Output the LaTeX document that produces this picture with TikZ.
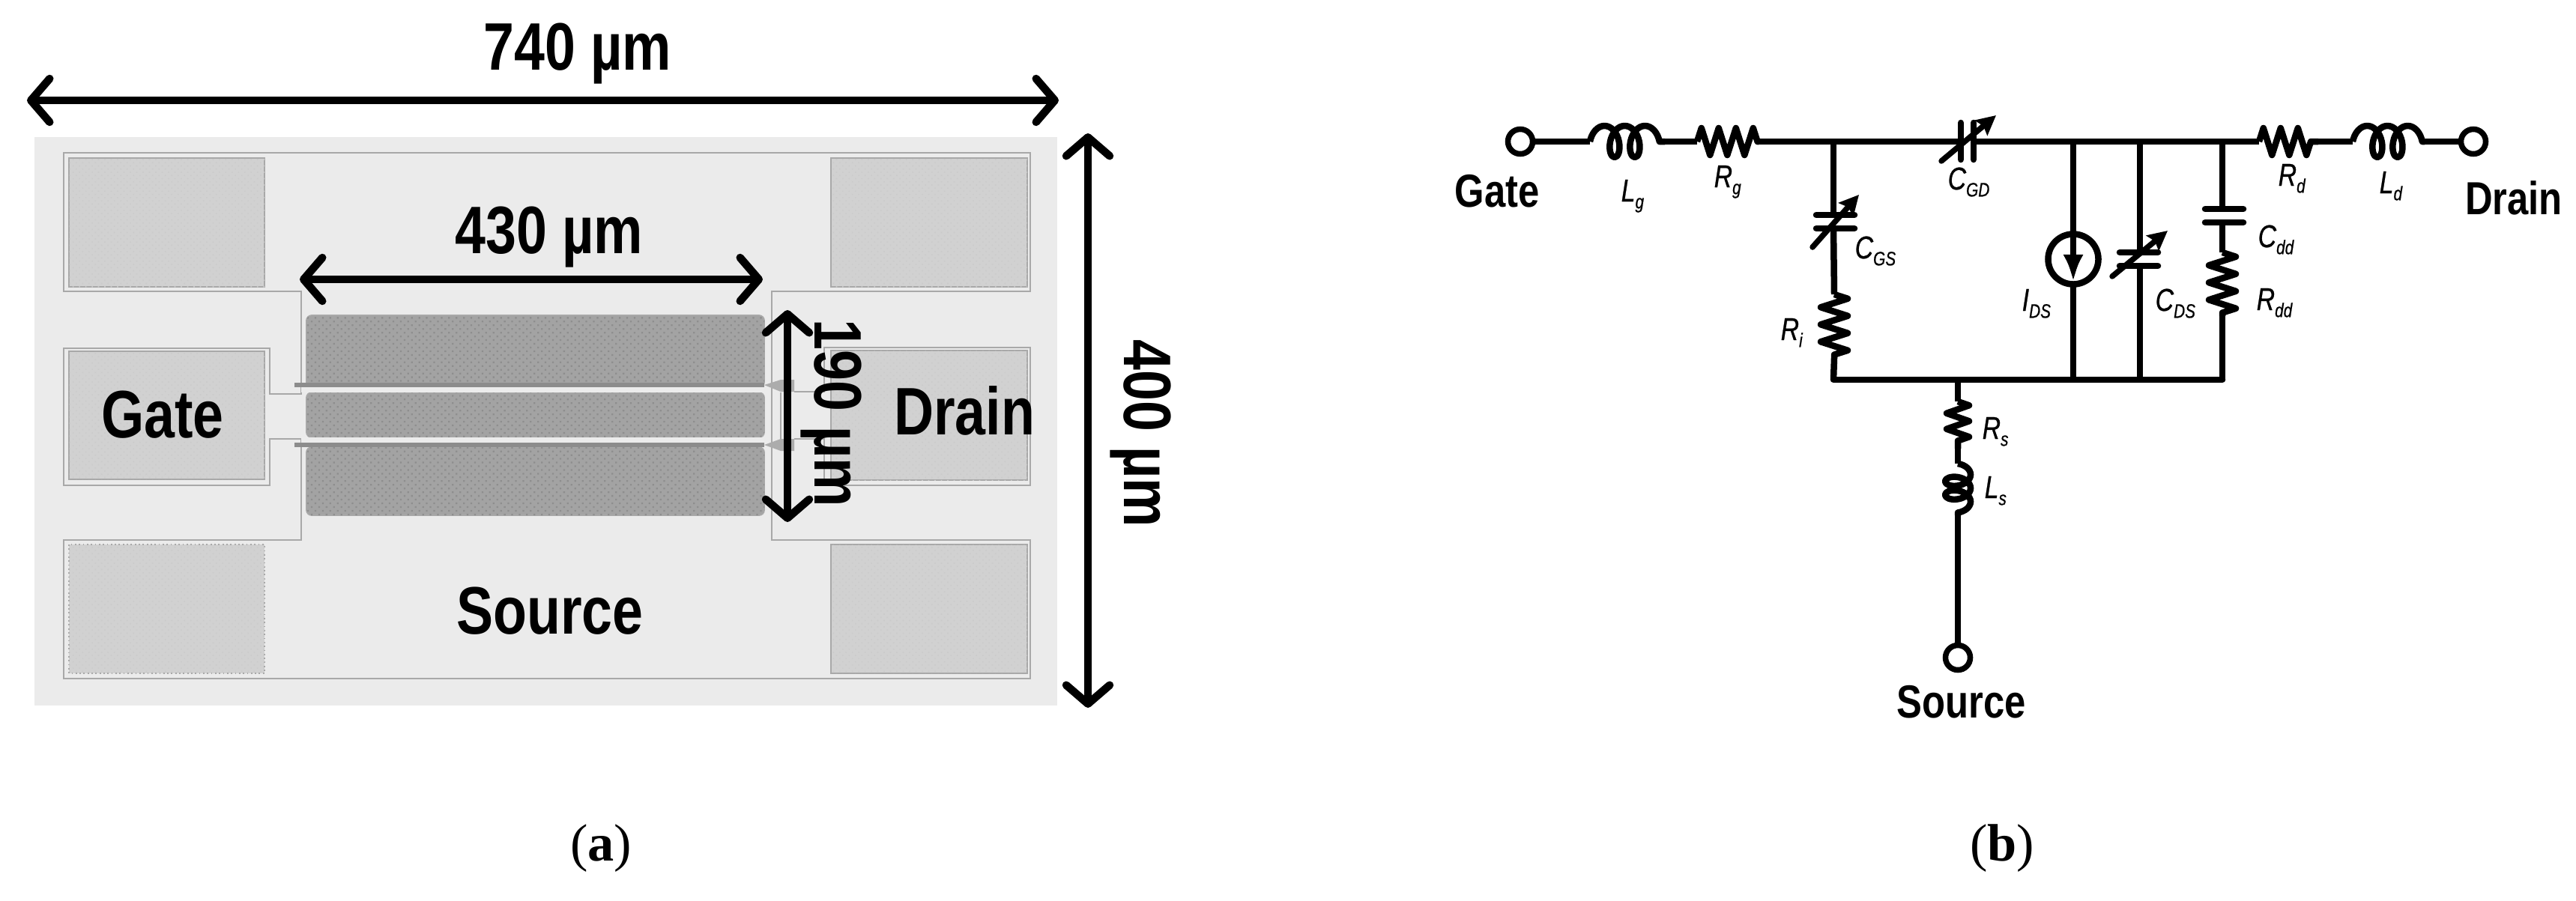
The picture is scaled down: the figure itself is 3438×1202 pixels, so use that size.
\documentclass[tikz,border=0pt]{standalone}
\usepackage{fontspec}
\usetikzlibrary{arrows.meta,decorations.pathmorphing,patterns.meta,shapes.geometric}
\setmainfont{Liberation Serif}
\newfontfamily\dimfont{Liberation Sans}[FakeStretch=0.82]
\newfontfamily\valfont{Liberation Sans}[FakeStretch=0.8,FakeBold=0.6]
\newcommand{\clab}[2]{{\valfont\itshape\fontsize{12pt}{13pt}\selectfont #1\raisebox{-.22em}{\fontsize{7.4pt}{8pt}\selectfont #2}}}
\definecolor{chipbg}{HTML}{EBEBEB}
\definecolor{padgray}{HTML}{D1D1D1}
\definecolor{padedge}{HTML}{A8A8A8}
\definecolor{mesagray}{HTML}{A3A3A3}
\definecolor{mesadot}{HTML}{8E8E8E}
\tikzset{
  barb/.tip={Straight Barb[length=.25cm,width=.58cm,round,line width=.105cm]},
  dim/.style={line width=.105cm,barb-barb},
  bigtext/.style={font=\dimfont\bfseries\fontsize{25.5pt}{26pt}\selectfont,inner sep=0pt},
  midtext/.style={font=\dimfont\bfseries\fontsize{17.6pt}{18pt}\selectfont,inner sep=0pt},
  outline/.style={draw=padedge,line width=.018cm},
  pad/.style={fill=padgray,draw=padedge,line width=.018cm,postaction={pattern={Dots[distance=.06cm,radius=.012cm,angle=45]},pattern color=padedge!60}},
  mesa/.style={fill=mesagray,draw=padedge,line width=.018cm,postaction={pattern={Dots[distance=.07cm,radius=.016cm,angle=45]},pattern color=mesadot}},
  wire/.style={line width=.085cm,line join=round},
  plate/.style={line width=.085cm,line cap=round},
  tune/.style={line width=.075cm,line cap=round,-{Stealth[length=.26cm,width=.26cm,inset=.04cm]}},
  res/.style={wire,decorate,decoration={zigzag,segment length=.23cm,amplitude=.18cm}},
  ind/.style={wire,decorate,decoration={coil,aspect=.6,segment length=.27cm,amplitude=.21cm}},
  vind/.style={wire,decorate,decoration={coil,aspect=.6,segment length=.18cm,amplitude=.17cm}},
  term/.style={circle,draw,line width=.075cm,fill=white,minimum size=.33cm,inner sep=0pt},
  val/.style={anchor=base west,inner sep=0pt},
}
\begin{document}
\begin{tikzpicture}[x=0.01cm,y=-0.01cm]
  \useasboundingbox (0,0) rectangle (3438,1202);

  %chip
  \fill[chipbg] (46,183) rectangle (1411,942);
  \draw[outline] (85,204) -- (1375,204) -- (1375,389) -- (1030,389) -- (1030,721) -- (1375,721) -- (1375,906)
    -- (85,906) -- (85,721) -- (402,721) -- (402,586) -- (360,586) -- (360,648) -- (85,648) -- (85,465)
    -- (360,465) -- (360,526) -- (402,526) -- (402,389) -- (85,389) -- cycle;
  \draw[outline] (1060,523) -- (1100,523) -- (1100,464) -- (1375,464) -- (1375,648) -- (1100,648) -- (1100,586) -- (1060,586);
  \draw[outline] (1042,524) -- (1042,591);

  %pads
  \draw[pad] (92,211) rectangle (353,383);
  \draw[pad] (1109,211) rectangle (1371,383);
  \draw[pad] (92,469) rectangle (353,640);
  \draw[pad] (1109,468) rectangle (1371,641);
  \draw[pad,densely dotted] (92,727) rectangle (353,899);
  \draw[pad] (1109,727) rectangle (1371,899);

  %active area
  \draw[mesa,rounded corners=2pt] (409,421) rectangle (1020,517);
  \draw[mesa,rounded corners=2pt] (409,524) rectangle (1020,584);
  \draw[mesa,rounded corners=2pt] (409,597) rectangle (1020,688);
  \fill[gray!90] (393,511) rectangle (1020,517);
  \fill[gray!90] (393,591) rectangle (1020,597);
  \fill[white!85!gray] (402,517) rectangle (1020,524);
  \fill[white!85!gray] (402,584) rectangle (1020,591);
  \fill[gray!65] (1020,514) -- (1042,507) -- (1060,507) -- (1060,523) -- (1042,523) -- cycle;
  \fill[gray!65] (1020,594) -- (1042,586) -- (1060,586) -- (1060,602) -- (1042,602) -- cycle;

  %dimensions
  \coordinate (wL) at (36,134);
  \coordinate (wR) at (1413,134);
  \coordinate (hT) at (1452,178);
  \coordinate (hB) at (1452,945);
  \coordinate (aL) at (400,373);
  \coordinate (aR) at (1018,373);
  \coordinate (bT) at (1051,414);
  \coordinate (bB) at (1051,697);
  \draw[dim] (wL) -- (wR);
  \draw[dim] (hT) -- (hB);
  \draw[dim] (aL) -- (aR);
  \draw[dim] (bT) -- (bB);
  \node[bigtext] (wText) at (771,72) {740 µm};
  \node[bigtext] (aText) at (733,317) {430 µm};
  \node[bigtext,rotate=-90] (bText) at (1109,552) {190 µm};
  \node[bigtext,rotate=-90] (hText) at (1522,579) {400 µm};
  \node[bigtext] (gateA) at (217,554) {Gate};
  \node[bigtext] (drainA) at (1287,548) {Drain};
  \node[bigtext] (sourceA) at (734,816) {Source};
  \node[inner sep=0pt,font=\fontsize{20pt}{22pt}\selectfont] (capA) at (802,1133) {(\textbf{a})};

  %terminals
  \node[term] (gateT) at (2029,189) {};
  \node[term] (drainT) at (3301,189) {};
  \node[term] (sourceT) at (2613,878) {};

  %top rail
  \coordinate (Lg1) at (2122,189);
  \coordinate (Lg2) at (2222,189);
  \coordinate (Rg1) at (2265,189);
  \coordinate (Rg2) at (2347,189);
  \coordinate (jGS) at (2447,189);
  \coordinate (Cgd1) at (2617,189);
  \coordinate (Cgd2) at (2634,189);
  \coordinate (jDS) at (2767,189);
  \coordinate (jCD) at (2856,189);
  \coordinate (jDD) at (2966,189);
  \coordinate (Rd1) at (3015,189);
  \coordinate (Rd2) at (3094,189);
  \coordinate (Ld1) at (3140,189);
  \coordinate (Ld2) at (3236,189);
  \draw[wire] (gateT) -- (Lg1);
  \draw[ind] (Lg1) -- (Lg2);
  \draw[wire] (Lg2) -- (Rg1);
  \draw[res] (Rg1) -- (Rg2);
  \draw[wire] (Rg2) -- (jGS) -- (Cgd1);
  \draw[wire] (Cgd2) -- (jDS) -- (jCD) -- (jDD) -- (Rd1);
  \draw[res] (Rd1) -- (Rd2);
  \draw[wire] (Rd2) -- (Ld1);
  \draw[ind] (Ld1) -- (Ld2);
  \draw[wire] (Ld2) -- (drainT);

  %bottom rail
  \coordinate (bGS) at (2447,507);
  \coordinate (bS) at (2613,507);
  \coordinate (bDS) at (2767,507);
  \coordinate (bCD) at (2856,507);
  \coordinate (bDD) at (2966,507);
  \draw[wire,line cap=round] (bGS) -- (bS) -- (bDS) -- (bCD) -- (bDD);

  %Cgd
  \coordinate (Cgd1t) at (2617,164);
  \coordinate (Cgd1b) at (2617,213);
  \coordinate (Cgd2t) at (2634,164);
  \coordinate (Cgd2b) at (2634,213);
  \coordinate (Cgda) at (2591,215);
  \coordinate (Cgdb) at (2664,154);
  \draw[plate] (Cgd1t) -- (Cgd1b);
  \draw[plate] (Cgd2t) -- (Cgd2b);
  \draw[tune] (Cgda) -- (Cgdb);

  %Cgs and Ri
  \coordinate (Cgs1) at (2447,287);
  \coordinate (Cgs2) at (2447,305);
  \coordinate (Cgs1l) at (2424,287);
  \coordinate (Cgs1r) at (2475,287);
  \coordinate (Cgs2l) at (2424,305);
  \coordinate (Cgs2r) at (2475,305);
  \coordinate (Cgsa) at (2419,330);
  \coordinate (Cgsb) at (2481,260);
  \coordinate (Ri1) at (2448,393);
  \coordinate (Ri2) at (2448,478);
  \draw[wire] (jGS) -- (Cgs1);
  \draw[plate] (Cgs1l) -- (Cgs1r);
  \draw[plate] (Cgs2l) -- (Cgs2r);
  \draw[tune] (Cgsa) -- (Cgsb);
  \draw[wire] (Cgs2) -- (Ri1);
  \draw[res] (Ri1) -- (Ri2);
  \draw[wire] (Ri2) -- (bGS);

  %Ids
  \node[circle,draw,line width=.085cm,minimum size=.67cm,inner sep=0pt] (Ids) at (2767,346) {};
  \coordinate (IdsTip) at (2767,376);
  \draw[wire,-{Latex[length=.36cm,width=.27cm]}] (jDS) -- (IdsTip);
  \draw[wire] (IdsTip) -- (bDS);

  %Cds
  \coordinate (Cds1) at (2856,337);
  \coordinate (Cds2) at (2856,355);
  \coordinate (Cds1l) at (2829,337);
  \coordinate (Cds1r) at (2880,337);
  \coordinate (Cds2l) at (2829,355);
  \coordinate (Cds2r) at (2880,355);
  \coordinate (Cdsa) at (2819,369);
  \coordinate (Cdsb) at (2893,308);
  \draw[wire] (jCD) -- (Cds1);
  \draw[plate] (Cds1l) -- (Cds1r);
  \draw[plate] (Cds2l) -- (Cds2r);
  \draw[tune] (Cdsa) -- (Cdsb);
  \draw[wire] (Cds2) -- (bCD);

  %Cdd and Rdd
  \coordinate (Cdd1) at (2966,279);
  \coordinate (Cdd2) at (2966,297);
  \coordinate (Cdd1l) at (2943,279);
  \coordinate (Cdd1r) at (2994,279);
  \coordinate (Cdd2l) at (2943,297);
  \coordinate (Cdd2r) at (2994,297);
  \coordinate (Rdd1) at (2966,337);
  \coordinate (Rdd2) at (2966,422);
  \draw[wire] (jDD) -- (Cdd1);
  \draw[plate] (Cdd1l) -- (Cdd1r);
  \draw[plate] (Cdd2l) -- (Cdd2r);
  \draw[wire] (Cdd2) -- (Rdd1);
  \draw[res] (Rdd1) -- (Rdd2);
  \draw[wire] (Rdd2) -- (bDD);

  %Rs and Ls
  \coordinate (Rs1) at (2613,536);
  \coordinate (Rs2) at (2613,599);
  \coordinate (Ls1) at (2613,619);
  \coordinate (Ls2) at (2613,688);
  \draw[wire] (bS) -- (Rs1);
  \draw[wire,decorate,decoration={zigzag,segment length=.21cm,amplitude=.15cm}] (Rs1) -- (Rs2);
  \draw[wire] (Rs2) -- (Ls1);
  \draw[vind] (Ls1) -- (Ls2);
  \draw[wire] (Ls2) -- (sourceT);

  %labels
  \node[midtext] (gateB) at (1998,255) {Gate};
  \node[midtext] (drainB) at (3355,264) {Drain};
  \node[midtext] (sourceB) at (2618,937) {Source};
  \node[val] (lLg) at (2163,269) {\clab{L}{g}};
  \node[val] (lRg) at (2287,250) {\clab{R}{g}};
  \node[val] (lCgd) at (2599,253) {\clab{C}{GD}};
  \node[val] (lCgs) at (2475,345) {\clab{C}{GS}};
  \node[val] (lRi) at (2376,454) {\clab{R}{i}};
  \node[val] (lIds) at (2698,415) {\clab{I}{DS}};
  \node[val] (lCds) at (2876,415) {\clab{C}{DS}};
  \node[val] (lCdd) at (3013,330) {\clab{C}{dd}};
  \node[val] (lRdd) at (3011,414) {\clab{R}{dd}};
  \node[val] (lRd) at (3040,248) {\clab{R}{d}};
  \node[val] (lLd) at (3175,258) {\clab{L}{d}};
  \node[val] (lRs) at (2645,586) {\clab{R}{s}};
  \node[val] (lLs) at (2648,665) {\clab{L}{s}};
  \node[inner sep=0pt,font=\fontsize{20pt}{22pt}\selectfont] (capB) at (2672,1133) {(\textbf{b})};
\end{tikzpicture}
\end{document}
